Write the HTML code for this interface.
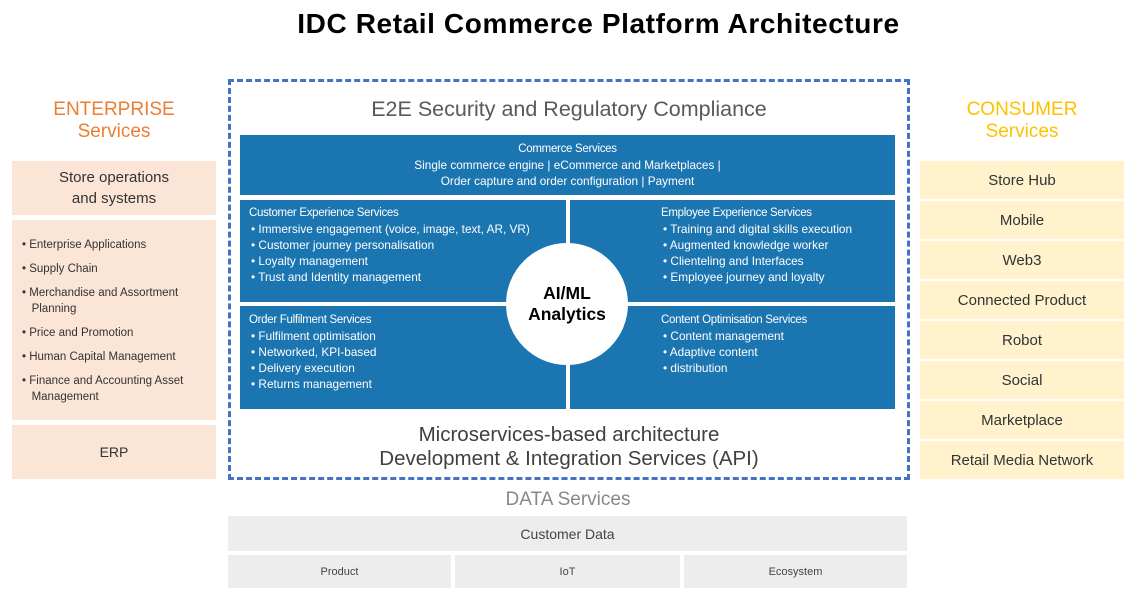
<!DOCTYPE html>
<html><head><meta charset="utf-8"><style>
*{margin:0;padding:0;box-sizing:border-box}
body{width:1137px;height:598px;background:#fff;position:relative;font-family:"Liberation Sans",sans-serif;overflow:hidden}
.a{position:absolute}
.c{display:flex;align-items:center;justify-content:center;text-align:center}
.pe{background:#FBE5D6;color:#333}
.ye{background:#FFF2CC;color:#333;font-size:15px}
.bl{background:#1B75B1;color:#fff;font-size:11.8px;line-height:16px}
.bl b{font-weight:normal;font-size:11.5px;letter-spacing:-0.3px}
.gr{background:#EDEDED;color:#444}
ul{list-style:none}
li:before{content:"• ";}
</style></head><body>
<div class="a c" style="left:30px;top:4px;width:1137px;height:40px;font-size:28px;font-weight:bold;color:#000;letter-spacing:0.6px">IDC Retail Commerce Platform Architecture</div>

<div class="a" style="left:228px;top:79px;width:682px;height:401px;border:3px dashed #4472C4"></div>

<div class="a c" style="left:12px;top:98px;width:204px;height:46px;font-size:19px;line-height:22px;color:#ED7D31">ENTERPRISE<br>Services</div>
<div class="a c pe" style="left:12px;top:161px;width:204px;height:54px;font-size:15px;line-height:21px">Store operations<br>and systems</div>
<div class="a pe" style="left:12px;top:220px;width:204px;height:200px;font-size:11.5px;padding:17px 0 0 10px;line-height:16px">
<ul>
<li>Enterprise Applications</li>
<li style="margin-top:8px">Supply Chain</li>
<li style="margin-top:8px">Merchandise and Assortment<br>&nbsp;&nbsp;&nbsp;Planning</li>
<li style="margin-top:8px">Price and Promotion</li>
<li style="margin-top:8px">Human Capital Management</li>
<li style="margin-top:8px">Finance and Accounting Asset<br>&nbsp;&nbsp;&nbsp;Management</li>
</ul></div>
<div class="a c pe" style="left:12px;top:425px;width:204px;height:54px;font-size:14px">ERP</div>

<div class="a c" style="left:920px;top:98px;width:204px;height:46px;font-size:19px;line-height:22px;color:#FFC000">CONSUMER<br>Services</div>
<div class="a c ye" style="left:920px;top:161px;width:204px;height:38px">Store Hub</div>
<div class="a c ye" style="left:920px;top:201px;width:204px;height:38px">Mobile</div>
<div class="a c ye" style="left:920px;top:241px;width:204px;height:38px">Web3</div>
<div class="a c ye" style="left:920px;top:281px;width:204px;height:38px">Connected Product</div>
<div class="a c ye" style="left:920px;top:321px;width:204px;height:38px">Robot</div>
<div class="a c ye" style="left:920px;top:361px;width:204px;height:38px">Social</div>
<div class="a c ye" style="left:920px;top:401px;width:204px;height:38px">Marketplace</div>
<div class="a c ye" style="left:920px;top:441px;width:204px;height:38px">Retail Media Network</div>

<div class="a c" style="left:231px;top:95px;width:676px;height:28px;font-size:21.5px;color:#595959">E2E Security and Regulatory Compliance</div>
<div class="a bl c" style="left:240px;top:135px;width:655px;height:60px;flex-direction:column">
<b>Commerce Services</b><div>Single commerce engine | eCommerce and Marketplaces |</div><div>Order capture and order configuration | Payment</div></div>
<div class="a bl" style="left:240px;top:200px;width:326px;height:102px;padding:4px 0 0 9px"><b>Customer Experience Services</b>
<ul style="padding-left:2px"><li>Immersive engagement (voice, image, text, AR, VR)</li><li>Customer journey personalisation</li><li>Loyalty management</li><li>Trust and Identity management</li></ul></div>
<div class="a bl" style="left:570px;top:200px;width:325px;height:102px;padding:4px 0 0 91px"><b>Employee Experience Services</b>
<ul style="padding-left:2px"><li>Training and digital skills execution</li><li>Augmented knowledge worker</li><li>Clienteling and Interfaces</li><li>Employee journey and loyalty</li></ul></div>
<div class="a bl" style="left:240px;top:306px;width:326px;height:103px;padding:5px 0 0 9px"><b>Order Fulfilment Services</b>
<ul style="padding-left:2px"><li>Fulfilment optimisation</li><li>Networked, KPI-based</li><li>Delivery execution</li><li>Returns management</li></ul></div>
<div class="a bl" style="left:570px;top:306px;width:325px;height:103px;padding:5px 0 0 91px"><b>Content Optimisation Services</b>
<ul style="padding-left:2px"><li>Content management</li><li>Adaptive content</li><li>distribution</li></ul></div>
<div class="a c" style="left:506px;top:243px;width:122px;height:122px;border-radius:50%;background:#fff;font-size:17.5px;font-weight:bold;line-height:21px;color:#000">AI/ML<br>Analytics</div>

<div class="a c" style="left:231px;top:422px;width:676px;height:50px;font-size:20.5px;line-height:24px;color:#404040">Microservices-based architecture<br>Development &amp; Integration Services (API)</div>

<div class="a c" style="left:228px;top:487px;width:680px;height:26px;font-size:19px;color:#888">DATA Services</div>
<div class="a c gr" style="left:228px;top:516px;width:679px;height:35px;font-size:14px">Customer Data</div>
<div class="a c gr" style="left:228px;top:555px;width:223px;height:33px;font-size:11px">Product</div>
<div class="a c gr" style="left:455px;top:555px;width:225px;height:33px;font-size:11px">IoT</div>
<div class="a c gr" style="left:684px;top:555px;width:223px;height:33px;font-size:11px">Ecosystem</div>
</body></html>
